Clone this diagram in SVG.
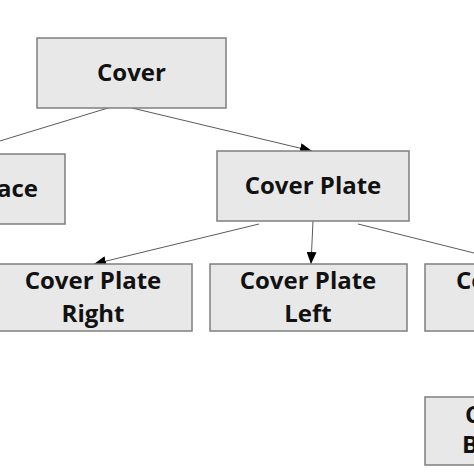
<svg xmlns="http://www.w3.org/2000/svg" width="474" height="474" viewBox="0 0 474 474">
<style>
.box{fill:#e8e8e8;stroke:#7f7f7f;stroke-width:1.5}
.t{font-family:"Open Sans","Liberation Sans",sans-serif;font-weight:700;font-size:24px;fill:#111;text-anchor:middle}
.c{fill:none;stroke:#5a5a5a;stroke-width:1}
</style>
<defs>
<marker id="ah" markerUnits="userSpaceOnUse" markerWidth="12" markerHeight="10" viewBox="0 0 12 10" refX="12" refY="5" orient="auto">
<path d="M0,0 L12,5 L0,10 Z" fill="#000"/>
</marker>
</defs>
<rect width="474" height="474" fill="#fff"/>
<g id="connectors">
<line class="c" x1="108" y1="108" x2="-10" y2="144"/>
<line class="c" x1="132" y1="108" x2="312" y2="151" marker-end="url(#ah)"/>
<line class="c" x1="259" y1="224" x2="94" y2="264" marker-end="url(#ah)"/>
<line class="c" x1="313" y1="221" x2="311" y2="264" marker-end="url(#ah)"/>
<line class="c" x1="358" y1="224" x2="518" y2="264" marker-end="url(#ah)"/>
</g>
<g id="cover">
<rect class="box" x="37" y="38" width="189" height="70"/>
<text class="t" x="131.5" y="81">Cover</text>
</g>
<g id="left-node">
<rect class="box" x="-10" y="154" width="75" height="70"/>
<text class="t" x="38" y="197" style="text-anchor:end">ace</text>
</g>
<g id="cover-plate">
<rect class="box" x="217" y="151" width="192" height="70"/>
<text class="t" x="313" y="194">Cover Plate</text>
</g>
<g id="cover-plate-right">
<rect class="box" x="-6" y="264" width="198" height="67"/>
<text class="t" x="93" y="289">Cover Plate</text>
<text class="t" x="93" y="322">Right</text>
</g>
<g id="cover-plate-left">
<rect class="box" x="210" y="264" width="197" height="67"/>
<text class="t" x="308" y="289">Cover Plate</text>
<text class="t" x="308" y="322">Left</text>
</g>
<g id="node-right">
<rect class="box" x="425" y="264" width="197" height="67"/>
<text class="t" x="456" y="289" style="text-anchor:start">Co</text>
</g>
<g id="node-bottom">
<rect class="box" x="425" y="397" width="197" height="68"/>
<text class="t" x="465" y="423" style="text-anchor:start">C</text>
<text class="t" x="462" y="453" style="text-anchor:start">B</text>
</g>
</svg>
